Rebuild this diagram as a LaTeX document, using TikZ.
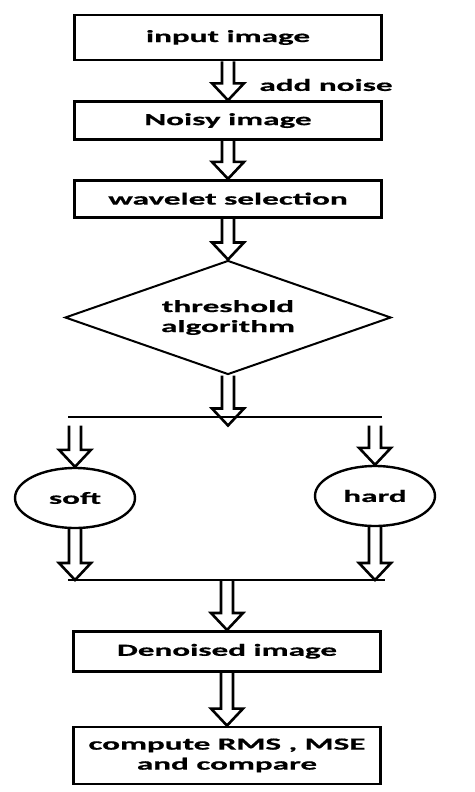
\documentclass[tikz,border=0pt]{standalone}
\usepackage{fontspec}
\setmainfont{Carlito}[FakeStretch=1.95, BoldFeatures={FakeBold=0.6}]
\usetikzlibrary{shapes.geometric, positioning, calc}

\begin{document}
\begin{tikzpicture}[x=1pt, y=-1pt, node distance=39pt,
  box/.style={rectangle, draw, line width=2.6pt, minimum width=307pt, inner sep=2pt, align=center, font=\fontsize{17}{20}\selectfont\bfseries},
  test/.style={diamond, draw, line width=2pt, minimum width=326pt, minimum height=114pt, shape aspect=2.86, inner sep=0pt, align=center, font=\fontsize{17}{20}\selectfont\bfseries},
  oval/.style={ellipse, draw, line width=2.4pt, minimum width=120pt, minimum height=60pt, inner sep=0pt, font=\fontsize{17}{20}\selectfont\bfseries},
  lbl/.style={font=\fontsize{17}{20}\selectfont\bfseries},
  bus/.style={line width=2pt},
  hollow/.style={draw, line width=2.6pt, to path={let \p1=(\tikztostart), \p2=(\tikztotarget) in
    (\x1-6pt,\y1) -- (\x1-6pt,\y2+17pt) -- (\x1-16pt,\y2+17pt) -- (\x1,\y2)
    -- (\x1+16pt,\y2+17pt) -- (\x1+6pt,\y2+17pt) -- (\x1+6pt,\y1)}}
]
\useasboundingbox (0,0) rectangle (474,792);
\node[box, minimum height=45pt] (in) at (228,37.5) {input image};
\node[box, minimum height=38pt, below=39pt of in] (noisy) {Noisy image};
\node[box, minimum height=37pt, below=38pt of noisy] (wav) {wavelet selection};
\node[test, below=41pt of wav] (thr) {threshold\\algorithm};
\node[lbl] (noiselbl) at (326,85) {add noise};
% soft / hard branch
\coordinate[below=50pt of thr.south] (fork);
\coordinate (forkL) at (68,417);
\coordinate (forkR) at (382,417);
\node[oval] (soft) at (75,498) {soft};
\node[oval] (hard) at (375,496) {hard};
\coordinate (join) at (227,580);
\coordinate (joinL) at (68,580);
\coordinate (joinR) at (385,580);
\node[box, minimum height=40pt, below=50pt of join] (den) {Denoised image};
\node[box, minimum height=57pt, below=53pt of den] (res) {compute RMS , MSE\\and compare};
% lines
\draw[bus] (forkL) -- (forkR);
\draw[bus] (joinL) -- (joinR);
% arrows
\draw[hollow] (in.south) to (noisy.north);
\draw[hollow] (noisy.south) to (wav.north);
\draw[hollow] (wav.south) to (thr.north);
\draw[hollow] (thr.south) to (fork);
\draw[hollow] (fork -| soft) to (soft.north);
\draw[hollow] (fork -| hard) to (hard.north);
\draw[hollow] (soft.south) to (soft.south |- join);
\draw[hollow] (hard.south) to (hard.south |- join);
\draw[hollow] (join) to (den.north);
\draw[hollow] (den.south) to (res.north);
\end{tikzpicture}
\end{document}
